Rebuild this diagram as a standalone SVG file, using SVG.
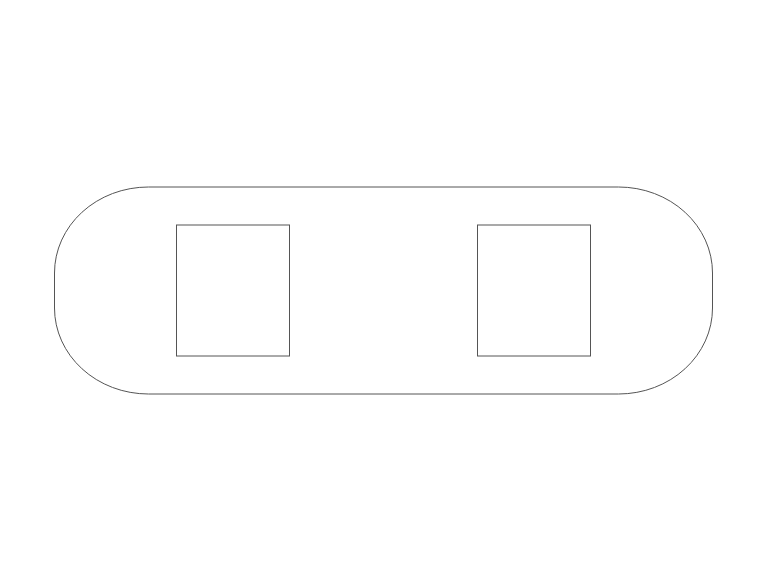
<svg xmlns="http://www.w3.org/2000/svg" width="768" height="582" viewBox="0 0 768 582">
<style>
.s{fill:#fff;stroke:#555;stroke-width:1}
</style>
<rect width="768" height="582" fill="#fff"/>
<g id="outer"><rect class="s" x="54.5" y="187" width="658" height="207" rx="94" ry="86"/></g>
<g id="left"><rect class="s" x="176.5" y="225" width="113" height="131"/></g>
<g id="right"><rect class="s" x="477.5" y="225" width="113" height="131"/></g>
<g id="connectors"/>
</svg>
